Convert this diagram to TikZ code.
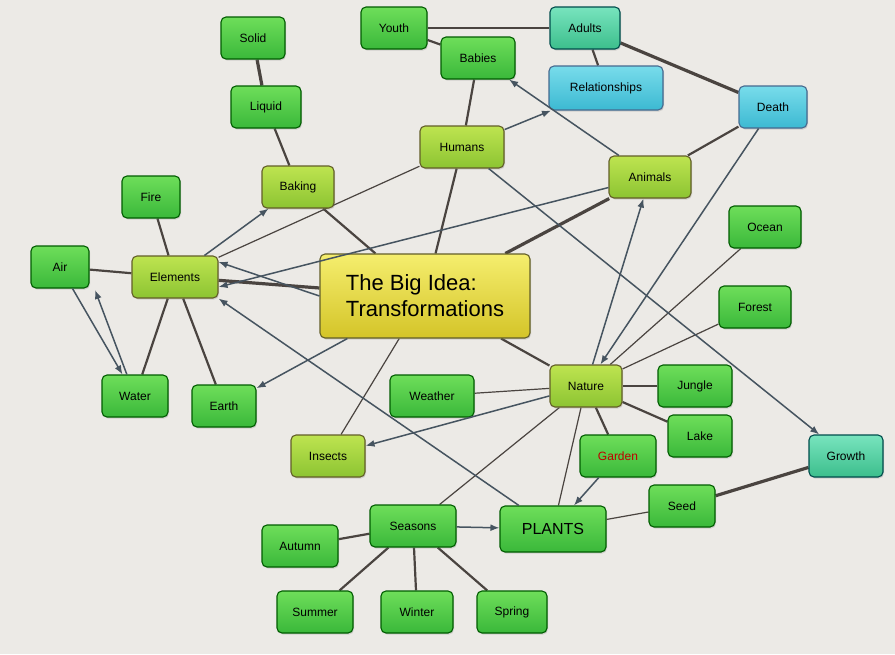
\documentclass[tikz,border=0pt]{standalone}
\usepackage{fontspec}
\setmainfont{Liberation Sans}
\usetikzlibrary{shadows,backgrounds,arrows.meta}
\definecolor{bg}{HTML}{ECEAE6}
\definecolor{ln}{HTML}{4A4440}
\definecolor{ar}{HTML}{465460}
\tikzset{
 box/.style={draw=#1!60!black, line width=1.1pt, rounded corners=5pt, minimum height=42pt, inner sep=2pt, font=\fontsize{12}{14}\selectfont, drop shadow={opacity=0.25,shadow xshift=1pt,shadow yshift=-1.5pt}},
 gbox/.style={box=green!60!black, top color={rgb,255:red,110;green,222;blue,90}, bottom color={rgb,255:red,58;green,184;blue,58}},
 ybox/.style={box=olive, top color={rgb,255:red,190;green,228;blue,80}, bottom color={rgb,255:red,140;green,196;blue,50}},
 tbox/.style={box=teal, top color={rgb,255:red,120;green,228;blue,190}, bottom color={rgb,255:red,60;green,190;blue,140}},
 cbox/.style={box=cyan!60!blue, top color={rgb,255:red,120;green,220;blue,235}, bottom color={rgb,255:red,60;green,185;blue,210}},
 bbox/.style={box=olive, top color={rgb,255:red,245;green,238;blue,110}, bottom color={rgb,255:red,212;green,196;blue,40}},
 l1/.style={draw=ln, line width=1.2pt},
 l2/.style={draw=ln, line width=2.2pt},
 l3/.style={draw=ln, line width=3.2pt},
 arw/.style={draw=ar, line width=1.5pt, -{Latex[length=9pt,width=7pt]}},
}
\begin{document}
\begin{tikzpicture}[x=1pt,y=-1pt]
\useasboundingbox (0,0) rectangle (895,654);
% nodes
\node[gbox,minimum width=64pt] (solid) at (253,38) {Solid};
\node[gbox,minimum width=70pt] (liquid) at (266,107) {Liquid};
\node[ybox,minimum width=72pt] (baking) at (298,187) {Baking};
\node[gbox,minimum width=66pt] (youth) at (394,28) {Youth};
\node[gbox,minimum width=74pt] (babies) at (478,58) {Babies};
\node[tbox,minimum width=70pt] (adults) at (585,28) {Adults};
\node[cbox,minimum width=114pt,minimum height=44pt] (rel) at (606,88) {Relationships};
\node[cbox,minimum width=68pt] (death) at (773,107) {Death};
\node[ybox,minimum width=84pt] (humans) at (462,147) {Humans};
\node[ybox,minimum width=82pt] (animals) at (650,177) {Animals};
\node[gbox,minimum width=58pt] (fire) at (151,197) {Fire};
\node[gbox,minimum width=72pt] (ocean) at (765,227) {Ocean};
\node[gbox,minimum width=58pt] (air) at (60,267) {Air};
\node[ybox,minimum width=86pt] (elements) at (175,277) {Elements};
\node[gbox,minimum width=72pt] (forest) at (755,307) {Forest};
\node[gbox,minimum width=66pt] (water) at (135,396) {Water};
\node[gbox,minimum width=64pt] (earth) at (224,406) {Earth};
\node[gbox,minimum width=84pt] (weather) at (432,396) {Weather};
\node[ybox,minimum width=72pt] (nature) at (586,386) {Nature};
\node[gbox,minimum width=74pt] (jungle) at (695,386) {Jungle};
\node[gbox,minimum width=64pt] (lake) at (700,436) {Lake};
\node[ybox,minimum width=74pt] (insects) at (328,456) {Insects};
\node[gbox,minimum width=76pt,text=red!75!black] (garden) at (618,456) {Garden};
\node[tbox,minimum width=74pt] (growth) at (846,456) {Growth};
\node[gbox,minimum width=66pt] (seed) at (682,506) {Seed};
\node[gbox,minimum width=86pt] (seasons) at (413,526) {Seasons};
\node[gbox,minimum width=106pt,minimum height=46pt,font=\fontsize{16}{18}\selectfont] (plants) at (553,529) {PLANTS};
\node[gbox,minimum width=76pt] (autumn) at (300,546) {Autumn};
\node[gbox,minimum width=76pt] (summer) at (315,612) {Summer};
\node[gbox,minimum width=72pt] (winter) at (417,612) {Winter};
\node[gbox,minimum width=70pt] (spring) at (512,612) {Spring};
\node[bbox,minimum width=210pt,minimum height=84pt,align=left,font=\fontsize{22}{26}\selectfont] (big) at (425,296) {The Big Idea:\\Transformations};
\coordinate (airtgt) at (95,290);
\begin{pgfonlayer}{background}
\fill[bg] (0,0) rectangle (895,654);
\path[l3] (solid) -- (liquid);
\path[l2] (liquid) -- (baking);
\path[l2] (baking) -- (big);
\path[l1] (youth) -- (adults);
\path[l2] (youth) -- (babies);
\path[l3] (adults) -- (death);
\path[l2] (adults) -- (rel);
\path[l2] (babies) -- (humans);
\path[l2] (humans) -- (big);
\path[l1] (humans) -- (elements);
\path[l2] (animals) -- (death);
\path[l3] (animals) -- (big);
\path[l3] (big) -- (elements);
\path[l2] (fire) -- (elements);
\path[l2] (air) -- (elements);
\path[l2] (elements) -- (water);
\path[l2] (elements) -- (earth);
\path[l1] (big) -- (insects);
\path[l2] (big) -- (nature);
\path[l1] (weather) -- (nature);
\path[l1] (ocean) -- (nature);
\path[l1] (forest) -- (nature);
\path[l1] (jungle) -- (nature);
\path[l2] (lake) -- (nature);
\path[l2] (garden) -- (nature);
\path[l1] (nature) -- (plants);
\path[l1] (nature) -- (seasons);
\path[l1] (seed) -- (plants);
\path[l3] (seed) -- (growth);
\path[l2] (seasons) -- (autumn);
\path[l2] (seasons) -- (summer);
\path[l2] (seasons) -- (winter);
\path[l2] (seasons) -- (spring);
\end{pgfonlayer}
% arrows
\path[arw] (elements) -- (baking);
\path[arw] (animals) -- ([yshift=-10pt]elements.east);
\path[arw] (big.west) -- ([yshift=15pt]elements.east);
\path[arw] (air) -- (water);
\path[arw] (water) -- (airtgt);
\path[arw] (big) -- (earth);
\path[arw] (nature) -- (insects);
\path[arw] (plants) -- (elements.south east);
\path[arw] (humans) -- (rel);
\path[arw] (animals) -- (babies);
\path[arw] (humans) -- (growth);
\path[arw] (nature) -- (animals);
\path[arw] (death) -- (nature);
\path[arw] (garden) -- (plants);
\path[arw] (seasons) -- (plants);
\end{tikzpicture}
\end{document}
